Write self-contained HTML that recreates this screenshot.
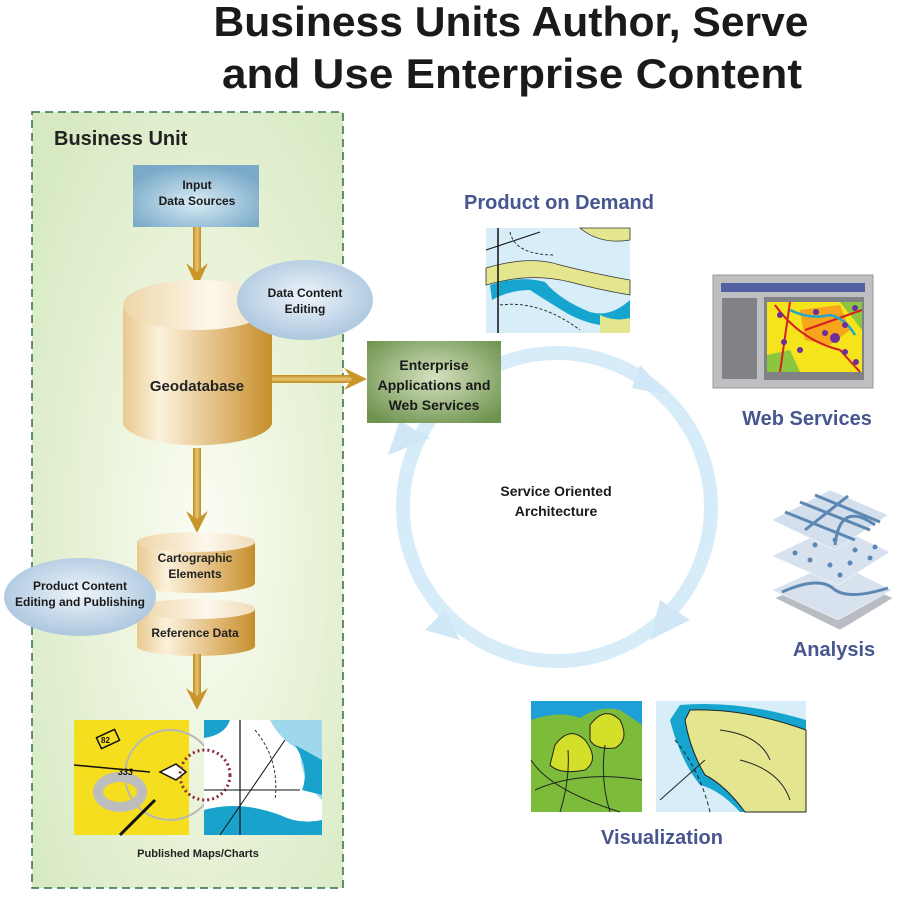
<!DOCTYPE html>
<html><head><meta charset="utf-8"><style>
html,body{margin:0;padding:0;background:#fff;}
svg{display:block;font-family:"Liberation Sans",sans-serif;}
</style></head><body>
<svg width="900" height="897" viewBox="0 0 900 897" xmlns="http://www.w3.org/2000/svg">
<defs>
<radialGradient id="bu" cx="0.55" cy="0.55" r="0.7">
<stop offset="0" stop-color="#fbfdf4"/><stop offset="0.6" stop-color="#e6f1d4"/><stop offset="1" stop-color="#d6e9c2"/></radialGradient>
<linearGradient id="cyl" x1="0" x2="1"><stop offset="0" stop-color="#e9c98f"/><stop offset="0.25" stop-color="#fbf1dc"/><stop offset="0.7" stop-color="#dfb570"/><stop offset="1" stop-color="#c48f2c"/></linearGradient>
<linearGradient id="cyltop" x1="0" x2="1"><stop offset="0" stop-color="#efd6a8"/><stop offset="0.6" stop-color="#fdf7ec"/><stop offset="1" stop-color="#f0dcb8"/></linearGradient>
<radialGradient id="inp" cx="0.5" cy="0.6" r="0.6"><stop offset="0" stop-color="#d9ecf6"/><stop offset="1" stop-color="#7aaac8"/></radialGradient>
<radialGradient id="ell" cx="0.5" cy="0.45" r="0.6"><stop offset="0" stop-color="#eef4fa"/><stop offset="1" stop-color="#a6c3dd"/></radialGradient>
<radialGradient id="ent" cx="0.5" cy="0.45" r="0.65"><stop offset="0" stop-color="#d5e2bf"/><stop offset="1" stop-color="#6f9450"/></radialGradient>
<linearGradient id="arr" x1="0" x2="1"><stop offset="0" stop-color="#bf8a1e"/><stop offset="0.5" stop-color="#e8c674"/><stop offset="1" stop-color="#bf8a1e"/></linearGradient>
<linearGradient id="arrh" x1="0" y1="0" x2="0" y2="1"><stop offset="0" stop-color="#bf8a1e"/><stop offset="0.5" stop-color="#e8c674"/><stop offset="1" stop-color="#bf8a1e"/></linearGradient>
</defs>

<text x="511" y="36" text-anchor="middle" font-size="42" font-weight="bold" fill="#1a1a1a" textLength="595" lengthAdjust="spacingAndGlyphs">Business Units Author, Serve</text>
<text x="512" y="88" text-anchor="middle" font-size="42" font-weight="bold" fill="#1a1a1a" textLength="580" lengthAdjust="spacingAndGlyphs">and Use Enterprise Content</text>

<rect x="32" y="112" width="311" height="776" fill="url(#bu)" stroke="#2f6e45" stroke-width="1.5" stroke-dasharray="8,5"/>
<text x="54" y="145" font-size="20" font-weight="bold" fill="#222">Business Unit</text>

<rect x="133" y="165" width="126" height="62" fill="url(#inp)"/>
<text x="197" y="189" text-anchor="middle" font-size="12" font-weight="bold" fill="#1a1a1a">Input</text>
<text x="197" y="205" text-anchor="middle" font-size="12" font-weight="bold" fill="#1a1a1a">Data Sources</text>

<rect x="193" y="227" width="8" height="46" fill="url(#arr)"/>
<path d="M186,263 L197,287 L208,263 L197,272 Z" fill="#c8962a"/>

<path d="M123,305 L123,424 A75,24 0 0 0 272,424 L272,305 Z" fill="url(#cyl)"/>
<ellipse cx="197.5" cy="305" rx="74.5" ry="25" fill="url(#cyltop)"/>
<text x="197" y="391" text-anchor="middle" font-size="15" font-weight="bold" fill="#222">Geodatabase</text>

<ellipse cx="305" cy="300" rx="68" ry="40" fill="url(#ell)"/>
<text x="305" y="297" text-anchor="middle" font-size="12" font-weight="bold" fill="#1a1a1a">Data Content</text>
<text x="305" y="313" text-anchor="middle" font-size="12" font-weight="bold" fill="#1a1a1a">Editing</text>

<rect x="272" y="375" width="80" height="8" fill="url(#arrh)"/>
<path d="M344,368 L367,379 L344,390 L352,379 Z" fill="#c8962a"/>

<!-- SOA ring (behind enterprise box) -->
<circle cx="557" cy="507" r="154" fill="none" stroke="#d7ecf9" stroke-width="14"/>
<path d="M640,365 L668,395 L632,388 Z" fill="#cfe7f7"/>
<path d="M660,600 L690,620 L650,640 Z" fill="#cfe7f7"/>
<path d="M445,610 L460,640 L425,630 Z" fill="#cfe7f7"/>
<path d="M415,430 L430,438 L388,455 L400,420 Z" fill="#cfe7f7"/>
<text x="556" y="496" text-anchor="middle" font-size="14" font-weight="bold" fill="#1a1a1a">Service Oriented</text>
<text x="556" y="516" text-anchor="middle" font-size="14" font-weight="bold" fill="#1a1a1a">Architecture</text>

<rect x="367" y="341" width="134" height="82" fill="url(#ent)"/>
<text x="434" y="370" text-anchor="middle" font-size="14" font-weight="bold" fill="#1a1a1a">Enterprise</text>
<text x="434" y="390" text-anchor="middle" font-size="14" font-weight="bold" fill="#1a1a1a">Applications and</text>
<text x="434" y="410" text-anchor="middle" font-size="14" font-weight="bold" fill="#1a1a1a">Web Services</text>

<rect x="193" y="448" width="8" height="74" fill="url(#arr)"/>
<path d="M186,511 L197,533 L208,511 L197,519 Z" fill="#c8962a"/>

<path d="M137,542 L137,583 A59,10 0 0 0 255,583 L255,542 Z" fill="url(#cyl)"/>
<ellipse cx="196" cy="542" rx="59" ry="10" fill="url(#cyltop)"/>
<text x="195" y="562" text-anchor="middle" font-size="12" font-weight="bold" fill="#222">Cartographic</text>
<text x="195" y="578" text-anchor="middle" font-size="12" font-weight="bold" fill="#222">Elements</text>

<path d="M137,609 L137,646 A59,10 0 0 0 255,646 L255,609 Z" fill="url(#cyl)"/>
<ellipse cx="196" cy="609" rx="59" ry="10" fill="url(#cyltop)"/>
<text x="195" y="637" text-anchor="middle" font-size="12" font-weight="bold" fill="#222">Reference Data</text>

<ellipse cx="80" cy="597" rx="76" ry="39" fill="url(#ell)"/>
<text x="80" y="590" text-anchor="middle" font-size="12" font-weight="bold" fill="#1a1a1a">Product Content</text>
<text x="80" y="606" text-anchor="middle" font-size="12" font-weight="bold" fill="#1a1a1a">Editing and Publishing</text>

<rect x="193" y="654" width="8" height="42" fill="url(#arr)"/>
<path d="M186,688 L197,710 L208,688 L197,696 Z" fill="#c8962a"/>

<g>
<rect x="74" y="720" width="115" height="115" fill="#f5de1e"/>
<circle cx="170" cy="775" r="45" fill="none" stroke="#b8b8b8" stroke-width="2"/>
<ellipse cx="120" cy="792" rx="22" ry="15" fill="none" stroke="#bdbdbd" stroke-width="10"/>
<rect x="98" y="733" width="20" height="12" fill="none" stroke="#111" stroke-width="1.5" transform="rotate(-25 108 739)"/>
<text x="101" y="743" font-size="8" font-weight="bold" fill="#111">82</text>
<line x1="74" y1="765" x2="150" y2="772" stroke="#111" stroke-width="1.5"/>
<text x="118" y="775" font-size="9" font-weight="bold" font-style="italic" fill="#111">333</text>
<path d="M160,772 L176,764 L186,772 L176,780 Z" fill="#fff" stroke="#111" stroke-width="1.5"/>
<line x1="120" y1="835" x2="155" y2="800" stroke="#111" stroke-width="3"/>
</g>
<g>
<rect x="204" y="720" width="118" height="115" fill="#fff"/>
<path d="M270,720 L322,720 L322,800 Q300,780 300,750 Q280,740 270,720 Z" fill="#9fd7ec"/>
<path d="M295,745 Q310,770 302,790 L322,795 L322,760 Z" fill="#19a3cc"/>
<path d="M204,810 Q240,800 280,815 Q300,825 322,820 L322,835 L204,835 Z" fill="#19a3cc"/>
<path d="M204,720 L230,720 Q225,735 204,738 Z" fill="#19a3cc"/>
<circle cx="205" cy="775" r="25" fill="none" stroke="#8b2a3a" stroke-width="3" stroke-dasharray="2,3"/>
<line x1="240" y1="720" x2="240" y2="835" stroke="#111" stroke-width="1.2"/>
<line x1="204" y1="790" x2="300" y2="790" stroke="#111" stroke-width="1"/>
<line x1="220" y1="835" x2="285" y2="740" stroke="#111" stroke-width="1"/>
<path d="M255,730 Q280,760 275,800" fill="none" stroke="#333" stroke-dasharray="3,2"/>
</g>
<text x="198" y="857" text-anchor="middle" font-size="11" font-weight="bold" fill="#222">Published Maps/Charts</text>

<text x="559" y="209" text-anchor="middle" font-size="20" font-weight="bold" fill="#47568f">Product on Demand</text>
<g>
<rect x="486" y="228" width="144" height="105" fill="#d7eef8"/>
<path d="M486,268 Q530,255 560,265 Q600,275 630,280 L630,295 Q600,290 570,282 Q530,272 486,285 Z" fill="#e3e58f" stroke="#333" stroke-width="0.8"/>
<path d="M490,285 Q520,275 545,282 Q560,300 590,312 Q610,318 630,300 L630,325 Q600,330 570,315 Q545,300 530,290 Q510,290 492,300 Z" fill="#16a5cf"/>
<path d="M580,228 Q600,245 630,240 L630,228 Z" fill="#e3e58f" stroke="#333" stroke-width="0.8"/>
<path d="M600,315 Q615,322 630,318 L630,333 L600,333 Z" fill="#e3e58f"/>
<line x1="498" y1="228" x2="498" y2="333" stroke="#111" stroke-width="1.5"/>
<line x1="486" y1="250" x2="540" y2="232" stroke="#111"/>
<path d="M510,232 Q515,255 555,255" fill="none" stroke="#333" stroke-dasharray="3,2"/>
<path d="M500,305 Q540,300 580,330" fill="none" stroke="#333" stroke-dasharray="3,2"/>
</g>

<rect x="713" y="275" width="160" height="113" fill="#bfbfc2" stroke="#999" stroke-width="1"/>
<rect x="721" y="283" width="144" height="9" fill="#5060a0"/>
<rect x="722" y="298" width="35" height="81" fill="#808287"/>
<rect x="764" y="297" width="100" height="83" fill="#808287"/>
<rect x="767" y="302" width="95" height="70" fill="#f5e31c"/>
<path d="M800,310 L840,305 L850,330 L830,345 L805,340 Z" fill="#f7a51c"/>
<path d="M840,302 L862,302 L862,330 Z" fill="#8cc63f"/>
<path d="M767,355 L790,350 L800,372 L767,372 Z" fill="#8cc63f"/>
<path d="M775,305 Q800,340 840,350 L860,372 M790,302 L780,372 M805,330 L862,310" fill="none" stroke="#d6201f" stroke-width="2"/>
<path d="M790,310 Q810,320 830,315 Q845,318 855,335" fill="none" stroke="#27a6c8" stroke-width="2.5"/>
<g fill="#6b2f9c"><circle cx="780" cy="315" r="3"/><circle cx="816" cy="312" r="3"/><circle cx="835" cy="338" r="5"/><circle cx="825" cy="333" r="3"/><circle cx="845" cy="325" r="3"/><circle cx="855" cy="308" r="3"/><circle cx="784" cy="342" r="3"/><circle cx="800" cy="350" r="3"/><circle cx="845" cy="352" r="3"/><circle cx="856" cy="362" r="3"/></g>
<text x="807" y="425" text-anchor="middle" font-size="20" font-weight="bold" fill="#47568f">Web Services</text>

<g stroke="#fff" stroke-width="0.5">
<path d="M775,598 L835,572 L893,598 L840,630 Z" fill="#b9bcc2"/>
<path d="M772,590 L835,562 L892,590 L838,620 Z" fill="#d8e2ee"/>
<path d="M772,556 L835,526 L890,552 L838,585 Z" fill="#d8e2ee"/>
<path d="M772,520 L830,490 L888,515 L835,550 Z" fill="#d3dfec"/>
</g>
<g stroke="#5d87b3" stroke-width="3" fill="none">
<path d="M785,512 L855,540 M800,502 L870,530 M815,495 L880,522 M805,530 L848,496 M835,545 Q840,500 875,525"/>
<path d="M782,592 Q820,575 835,590 Q850,600 888,588"/>
</g>
<g fill="#5d87b3"><circle cx="795" cy="553" r="2.5"/><circle cx="815" cy="545" r="2.5"/><circle cx="835" cy="540" r="2.5"/><circle cx="855" cy="550" r="2.5"/><circle cx="875" cy="547" r="2.5"/><circle cx="810" cy="560" r="2.5"/><circle cx="830" cy="565" r="2.5"/><circle cx="850" cy="563" r="2.5"/><circle cx="870" cy="558" r="2.5"/><circle cx="840" cy="575" r="2.5"/></g>
<text x="834" y="656" text-anchor="middle" font-size="20" font-weight="bold" fill="#47568f">Analysis</text>

<g>
<rect x="531" y="701" width="111" height="111" fill="#5aa83a"/>
<rect x="531" y="701" width="111" height="28" fill="#1e9fd8"/>
<path d="M531,720 Q560,710 580,718 Q600,705 620,710 Q635,720 642,725 L642,812 L531,812 Z" fill="#7dbb3a"/>
<path d="M555,745 Q570,725 585,740 Q600,760 585,770 Q560,775 550,765 Z" fill="#d4df2a" stroke="#222"/>
<path d="M590,725 Q605,705 620,720 Q630,740 615,748 Q595,750 590,740 Z" fill="#d4df2a" stroke="#222"/>
<path d="M535,790 Q580,770 642,780 M560,812 Q570,780 568,750 M610,812 Q600,780 605,745 M531,760 Q550,790 620,812" fill="none" stroke="#222" stroke-width="1"/>
</g>
<g>
<rect x="656" y="701" width="150" height="111" fill="#d7eef8"/>
<path d="M680,705 Q740,700 806,720 L806,812 L740,812 Q720,790 700,785 Q680,760 670,720 Z" fill="#16a5cf"/>
<path d="M690,710 Q745,708 806,730 L806,812 L745,812 Q725,785 705,775 Q690,750 685,720 Z" fill="#e3e58f" stroke="#222"/>
<path d="M720,730 Q760,735 770,760 M740,760 Q780,770 790,800" fill="none" stroke="#222"/>
<path d="M675,740 Q700,770 710,812" fill="none" stroke="#222" stroke-dasharray="4,3"/>
<line x1="660" y1="800" x2="705" y2="760" stroke="#222"/>
</g>
<text x="662" y="844" text-anchor="middle" font-size="20" font-weight="bold" fill="#47568f">Visualization</text>
</svg>
</body></html>
